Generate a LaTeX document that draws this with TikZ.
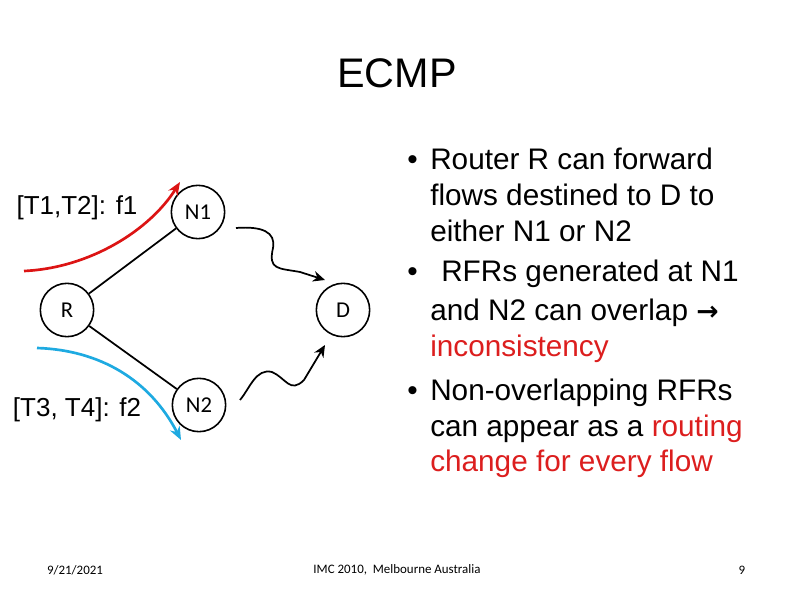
\documentclass[tikz,border=0pt]{standalone}
\usepackage{fontspec}
\setmainfont{Liberation Sans}
\newfontfamily\calib{Carlito}
\newfontfamily\arrowfont{DejaVu Sans}
\usetikzlibrary{arrows.meta}
\tikzset{router/.style={draw, circle, line width=1.2pt, minimum size=40pt, inner sep=0pt, font=\calib\fontsize{17}{17}\selectfont},
  link/.style={line width=1.3pt},
  wiggle/.style={line width=1.3pt, -{Stealth[length=9pt,width=8pt]}},
  flow/.style={line width=2pt, -{Stealth[length=10pt,width=8pt]}},
  txt/.style={anchor=base west, inner sep=0pt, font=\fontsize{22.3}{22}\selectfont},
  foot/.style={inner sep=0pt, font=\calib\fontsize{9.7}{9}\selectfont}}
\definecolor{flowred}{RGB}{220,20,20}
\definecolor{flowblue}{RGB}{30,170,225}
\definecolor{txtred}{RGB}{220,30,30}
\begin{document}
\begin{tikzpicture}[x=0.75pt,y=-0.75pt]
  \useasboundingbox (0,0) rectangle (794,595);
  \node[inner sep=0pt, font=\fontsize{31}{31}\selectfont] (title) at (397,73) {ECMP};
  % routers
  \node[router] (r)  at (67,310)  {R};
  \node[router] (n1) at (198,212) {N1};
  \node[router] (n2) at (199,405) {N2};
  \node[router] (d)  at (343,310) {D};
  \draw[link] (r) -- (n1);
  \draw[link] (r) -- (n2);
  % paths towards D
  \coordinate (w1) at (236,228);
  \coordinate (w2) at (240,400);
  \draw[wiggle] (w1) .. controls (262,226) and (276,232) .. (273,248)
     .. controls (268,270) and (278,268) .. (300,272) -- (325,280);
  \draw[wiggle] (w2) .. controls (250,388) and (256,368) .. (272,372)
     .. controls (286,378) and (290,394) .. (304,380) -- (325,345);
  % flows
  \coordinate (f1s) at (24,271);
  \coordinate (f1e) at (180,182);
  \coordinate (f2s) at (37,348);
  \coordinate (f2e) at (181,440);
  \draw[flow, flowred]  (f1s) .. controls (90,268) and (150,230) .. (f1e);
  \draw[flow, flowblue] (f2s) .. controls (100,350) and (150,380) .. (f2e);
  \node[inner sep=0pt, font=\fontsize{19.5}{19}\selectfont] (l1) at (77,208) {[T1,T2]: f1};
  \node[inner sep=0pt, font=\fontsize{19.5}{19}\selectfont] (l2) at (77,410) {[T3, T4]: f2};
  % bullets
  \node[txt] (b1) at (407,170) {\textbullet};
  \node[txt] (t1) at (430,170) {Router R can forward};
  \node[txt] (t2) at (430,206) {flows destined to D to};
  \node[txt] (t3) at (430,242) {either N1 or N2};
  \node[txt] (b2) at (407,282) {\textbullet};
  \node[txt] (t4) at (441,282) {RFRs generated at N1};
  \node[txt] (t5) at (430,321) {and N2 can overlap {\arrowfont\bfseries\fontsize{20}{20}\selectfont →}};
  \node[txt, txtred] (t6) at (430,357) {inconsistency};
  \node[txt] (b3) at (407,401) {\textbullet};
  \node[txt] (t7) at (430,401) {Non-overlapping RFRs};
  \node[txt] (t8) at (430,437) {can appear as a \textcolor{txtred}{routing}};
  \node[txt, txtred] (t9) at (430,472) {change for every flow};
  % footer
  \node[foot] (date) at (75,570) {9/21/2021};
  \node[foot] (conf) at (397,570) {IMC 2010,\ \ Melbourne Australia};
  \node[foot] (page) at (742,570) {9};
\end{tikzpicture}
\end{document}
